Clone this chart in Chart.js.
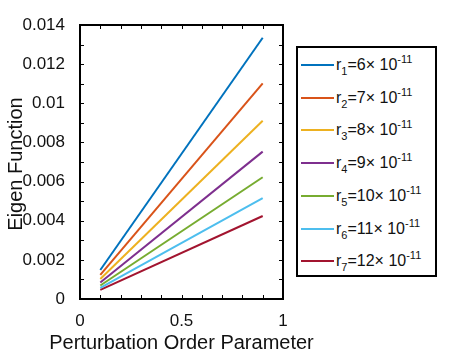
<!DOCTYPE html>
<html><head><meta charset="utf-8">
<script src="https://cdn.jsdelivr.net/npm/chart.js@4"></script>
<style>
html,body{margin:0;padding:0;background:#fff;}
#wrap{position:relative;width:474px;height:355px;}
canvas{position:absolute;left:0;top:0;}
#legend{position:absolute;left:296px;top:46px;width:141px;height:231px;border:2px solid #000;box-sizing:border-box;font-family:"Liberation Sans",Arial,sans-serif;font-size:16px;color:#111;background:#fff;}
.item{position:absolute;left:3px;height:20px;white-space:nowrap;}
.sw{position:absolute;left:0;top:9px;width:33px;height:2px;}
.tx{position:absolute;left:35px;top:0;line-height:20px;}
.tx sub{font-size:11px;vertical-align:-5px;line-height:0;}
.tx sup{font-size:11px;vertical-align:7px;line-height:0;}
</style></head>
<body><div id="wrap"><canvas id="c" width="474" height="355"></canvas><div id="legend"></div></div>
<script>
const xValues = [0.1, 0.9];
const seriesNames = ["1", "2", "3", "4", "5", "6", "7"];
const seriesCoef = ["6", "7", "8", "9", "10", "11", "12"];
const r1 = [0.00148, 0.01335];
const r2 = [0.00123, 0.01102];
const r3 = [0.00102, 0.00911];
const r4 = [0.00084, 0.00753];
const r5 = [0.00069, 0.00622];
const r6 = [0.00057, 0.00515];
const r7 = [0.00047, 0.00424];
const seriesValues = [r1, r2, r3, r4, r5, r6, r7];
const colors = ["#0072BD", "#D95319", "#EDB120", "#7E2F8E", "#77AC30", "#4DBEEE", "#A2142F"];
const xTicks = [0, 0.5, 1];
const yTicks = [0, 0.002, 0.004, 0.006, 0.008, 0.01, 0.012, 0.014];
const xTitle = 'Perturbation Order Parameter';
const yTitle = 'Eigen Function';

const FONT = '"Liberation Sans", Arial, sans-serif';

const datasets = seriesValues.map((vals, i) => ({
  label: "r" + seriesNames[i] + "=" + seriesCoef[i] + "× 10-11",
  data: vals.map((v, j) => ({x: xValues[j], y: v})),
  borderColor: colors[i],
  backgroundColor: colors[i],
  borderWidth: 2,
  pointRadius: 0,
  fill: false,
  tension: 0
}));

const boxPlugin = {
  id: 'box',
  afterDraw(chart) {
    const {ctx, chartArea: a, scales} = chart;
    ctx.save();
    ctx.strokeStyle = '#000';
    ctx.lineWidth = 1;
    const L = 4;
    for (let i = 0; i <= 10; i++) {
      const px = Math.round(scales.x.getPixelForValue(i / 10)) + 0.5;
      ctx.beginPath();
      ctx.moveTo(px, a.bottom); ctx.lineTo(px, a.bottom - L);
      ctx.moveTo(px, a.top); ctx.lineTo(px, a.top + L);
      ctx.stroke();
    }
    for (let i = 0; i <= 14; i++) {
      const py = Math.round(scales.y.getPixelForValue(i / 1000)) + 0.5;
      ctx.beginPath();
      ctx.moveTo(a.left, py); ctx.lineTo(a.left + L, py);
      ctx.moveTo(a.right, py); ctx.lineTo(a.right - L, py);
      ctx.stroke();
    }
    ctx.lineWidth = 2;
    ctx.strokeRect(a.left, a.top, a.right - a.left, a.bottom - a.top);
    // axis titles (drawn without width compression)
    ctx.fillStyle = '#111';
    ctx.font = '20px ' + FONT;
    ctx.textAlign = 'center';
    ctx.textBaseline = 'alphabetic';
    ctx.fillText(xTitle, (a.left + a.right) / 2, 349);
    ctx.translate(22, 164);
    ctx.rotate(-Math.PI / 2);
    ctx.fillText(yTitle, 0, 0);
    ctx.restore();
  }
};

new Chart(document.getElementById('c'), {
  type: 'line',
  data: {datasets},
  options: {
    responsive: false,
    animation: false,
    layout: {padding: {top: 25, right: 191, left: 0, bottom: 0}},
    plugins: {legend: {display: false}, tooltip: {enabled: false}},
    scales: {
      x: {
        type: 'linear', min: 0, max: 1,
        afterBuildTicks: s => { s.ticks = xTicks.map(v => ({value: v})); },
        afterFit: s => { s.height = 56; },
        grid: {display: false},
        border: {display: false},
        ticks: {color: '#111', font: {family: FONT, size: 17}, padding: 4, maxRotation: 0,
          callback: v => String(Number(v.toFixed(3)))},
        title: {display: false}
      },
      y: {
        type: 'linear', min: 0, max: 0.014,
        afterBuildTicks: s => { s.ticks = yTicks.map(v => ({value: v})); },
        afterFit: s => { s.width = 80; },
        grid: {display: false},
        border: {display: false},
        ticks: {color: '#111', font: {family: FONT, size: 17}, padding: 7,
          callback: v => String(Number(v.toFixed(3)))},
        title: {display: false}
      }
    }
  },
  plugins: [boxPlugin]
});

const leg = document.getElementById('legend');
seriesNames.forEach((n, i) => {
  const d = document.createElement('div');
  d.className = 'item';
  d.style.top = (7 + i * 32.7) + 'px';
  d.innerHTML = '<div class="sw" style="background:' + colors[i] + '"></div>' +
    '<div class="tx">r<sub>' + n + '</sub>=' + seriesCoef[i] + '× 10<sup>-11</sup></div>';
  leg.appendChild(d);
});
</script></body></html>
